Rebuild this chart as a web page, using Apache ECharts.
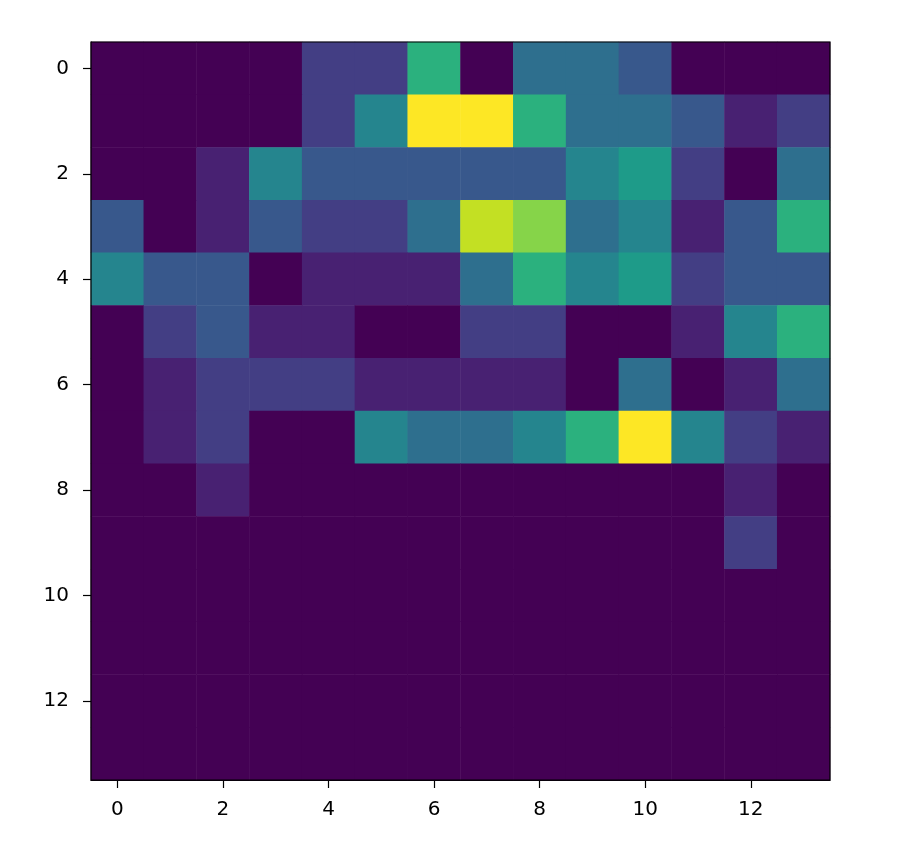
<!DOCTYPE html>
<html>
<head>
<meta charset="utf-8">
<script src="https://cdn.jsdelivr.net/npm/echarts@6/dist/echarts.min.js"></script>
<style>
html,body{margin:0;padding:0;background:#fff;}
#chart{width:904px;height:856px;}
</style>
</head>
<body>
<div id="chart"></div>
<script>
// Column and row categories (0..13)
const xCategories = ['0','1','2','3','4','5','6','7','8','9','10','11','12','13'];
const yCategories = ['0','1','2','3','4','5','6','7','8','9','10','11','12','13'];

// Cell values, one array per row (row 0 at top)
const counts = [
  [0,0,0,0,2,2,7,0,4,4,3,0,0,0],
  [0,0,0,0,2,5,11,11,7,4,4,3,1,2],
  [0,0,1,5,3,3,3,3,3,5,6,2,0,4],
  [3,0,1,3,2,2,4,10,9,4,5,1,3,7],
  [5,3,3,0,1,1,1,4,7,5,6,2,3,3],
  [0,2,3,1,1,0,0,2,2,0,0,1,5,7],
  [0,1,2,2,2,1,1,1,1,0,4,0,1,4],
  [0,1,2,0,0,5,4,4,5,7,11,5,2,1],
  [0,0,1,0,0,0,0,0,0,0,0,0,1,0],
  [0,0,0,0,0,0,0,0,0,0,0,0,2,0],
  [0,0,0,0,0,0,0,0,0,0,0,0,0,0],
  [0,0,0,0,0,0,0,0,0,0,0,0,0,0],
  [0,0,0,0,0,0,0,0,0,0,0,0,0,0],
  [0,0,0,0,0,0,0,0,0,0,0,0,0,0]
];

const viridis = ['#440154','#471365','#482475','#463480','#414487','#3b528b','#355f8d','#2f6c8e','#2a788e','#25848e','#21918c','#1e9c89','#22a884','#2fb47c','#44bf70','#5ec962','#7ad151','#9bd93c','#bddf26','#dfe318','#fde725'];

const data = [];
counts.forEach((row, r) => row.forEach((v, c) => data.push([c, r, v])));
let vmax = 0;
counts.forEach(row => row.forEach(v => { if (v > vmax) vmax = v; }));

const chart = echarts.init(document.getElementById('chart'));
const labelStyle = {color:'#000', fontSize:20, fontFamily:'DejaVu Sans'};
chart.setOption({
  animation:false,
  backgroundColor:'#fff',
  grid:{left:91, top:42, width:739, height:738, show:true, borderColor:'#000', borderWidth:1.2, backgroundColor:'transparent', z:10},
  xAxis:{
    type:'category', data:xCategories, position:'bottom',
    splitArea:{show:false}, splitLine:{show:false},
    axisLine:{show:true, lineStyle:{color:'#000', width:1.2}},
    axisTick:{show:true, alignWithLabel:true, interval:1, length:8, lineStyle:{color:'#000', width:1.2}},
    axisLabel:Object.assign({interval:1, margin:20}, labelStyle)
  },
  yAxis:{
    type:'category', data:yCategories, inverse:true,
    splitArea:{show:false}, splitLine:{show:false},
    axisLine:{show:true, lineStyle:{color:'#000', width:1.2}},
    axisTick:{show:true, alignWithLabel:true, interval:1, length:8, lineStyle:{color:'#000', width:1.2}},
    axisLabel:Object.assign({interval:1, margin:22}, labelStyle)
  },
  visualMap:{show:false, type:'continuous', min:0, max:vmax, dimension:2, inRange:{color:viridis}},
  series:[{
    type:'heatmap', data:data,
    itemStyle:{borderWidth:0},
    emphasis:{disabled:true}
  }]
});
</script>
</body>
</html>
